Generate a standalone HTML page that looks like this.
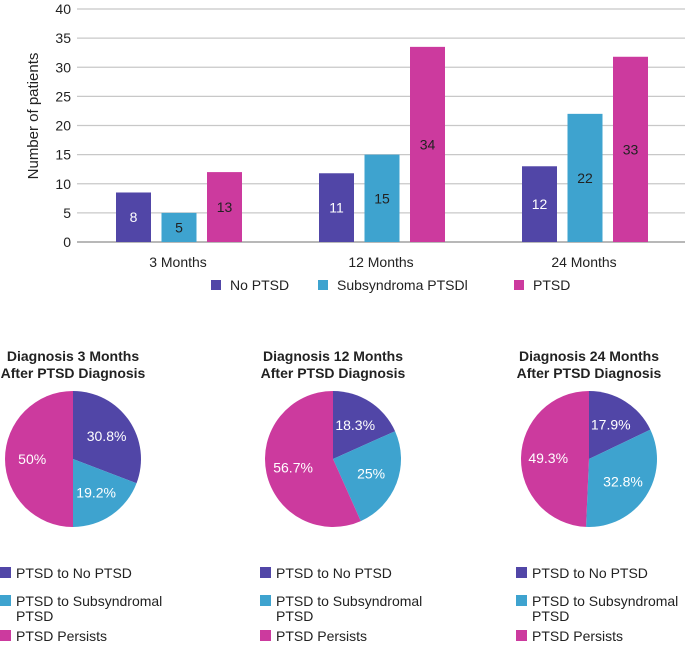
<!DOCTYPE html>
<html><head><meta charset="utf-8"><style>
body{margin:0;background:#fff;width:685px;height:645px;overflow:hidden;font-family:"Liberation Sans",sans-serif}
svg{display:block}
</style></head><body>
<svg id="c" width="685" height="645"></svg>
<script>
const categories=["3 Months","12 Months","24 Months"];
const seriesNames=["No PTSD","Subsyndroma PTSDl","PTSD"];
const noPtsd=[8.5,11.8,13];
const subPtsd=[5,15,22];
const ptsd=[12,33.5,31.8];
const noPtsdLabels=["8","11","12"];
const subPtsdLabels=["5","15","22"];
const ptsdLabels=["13","34","33"];
const yTicks=[0,5,10,15,20,25,30,35,40];
const pieTitles1=["Diagnosis 3 Months","Diagnosis 12 Months","Diagnosis 24 Months"];
const pieNoPtsd=[30.8,18.3,17.9];
const pieSub=[19.2,25,32.8];
const piePersists=[50,56.7,49.3];
const pieLegend=["PTSD to No PTSD","PTSD to Subsyndromal","PTSD Persists"];

const NS="http://www.w3.org/2000/svg";
const svg=document.getElementById('c');
const colors=["#5146a7","#3ea3cf","#cc3a9e"];
function mk(t,a,txt){const e=document.createElementNS(NS,t);for(const k in a)e.setAttribute(k,a[k]);if(txt!==undefined)e.textContent=txt;svg.appendChild(e);return e;}
const y0=242,pxPer=233/40;
const yS=v=>y0-v*pxPer;
const groupC=i=>178+i*203;
yTicks.forEach(t=>{
 const l=mk('line',{x1:77,x2:685,y1:yS(t),y2:yS(t),stroke:t===0?'#b8b8b8':'#c8c8c8','stroke-width':t===0?2:1.3});
 
 const tx=mk('text',{x:71,y:yS(t)+5,'text-anchor':'end','font-size':14,fill:'#222'},String(t));
 
});
const yt=mk('text',{x:0,y:0,'font-size':15,fill:'#222','text-anchor':'middle',transform:'translate(38,116) rotate(-90)'},'Number of patients');

const series=[noPtsd,subPtsd,ptsd],labels=[noPtsdLabels,subPtsdLabels,ptsdLabels];
categories.forEach((c,i)=>{
 series.forEach((s,j)=>{
  const x=groupC(i)-62+j*45.5;
  const r=mk('rect',{x:x,y:yS(s[i]),width:35,height:s[i]*pxPer,fill:colors[j]});
  
  const t=mk('text',{x:x+17.5,y:yS(s[i]/2)+5,'text-anchor':'middle','font-size':14,fill:j===0?'#fff':'#222'},labels[j][i]);
  
 });
 const t=mk('text',{x:groupC(i),y:267,'text-anchor':'middle','font-size':14,fill:'#222'},c);
 
});
const legX=[211,318,514];
seriesNames.forEach((n,j)=>{
 const r=mk('rect',{x:legX[j],y:280,width:10,height:10,fill:colors[j]});
 
 const t=mk('text',{x:legX[j]+19,y:290,'font-size':14,fill:'#222'},n);
 
});
const pcx=[73,333,589],pcy=459,R=68;
const pieSeries=[pieNoPtsd,pieSub,piePersists];
const legLeft=[0,260,516];
pcx.forEach((cx,i)=>{
 const t1=mk('text',{x:cx,y:361,'text-anchor':'middle','font-size':14,'font-weight':'bold',fill:'#222'},pieTitles1[i]);
 
 const t2=mk('text',{x:cx,y:378,'text-anchor':'middle','font-size':14,'font-weight':'bold',fill:'#222'},'After PTSD Diagnosis');
 
 const vals=pieSeries.map(s=>s[i]);const tot=vals.reduce((a,b)=>a+b,0);
 let a=0;
 vals.forEach((v,j)=>{
  const a1=a,a2=a+v/tot*2*Math.PI;a=a2;
  const p=(ang,r)=>[cx+r*Math.sin(ang),pcy-r*Math.cos(ang)];
  const [x1,y1]=p(a1,R),[x2,y2]=p(a2,R);
  const s=mk('path',{d:`M${cx},${pcy}L${x1},${y1}A${R},${R} 0 ${a2-a1>Math.PI?1:0} 1 ${x2},${y2}Z`,fill:colors[j]});
  
  const [lx,ly]=p((a1+a2)/2,R*0.6);
  const t=mk('text',{x:lx,y:ly+5,'text-anchor':'middle','font-size':14,fill:'#fff'},(Math.round(v*10)/10)+'%');
  
 });
 const lx=legLeft[i];
 const ys=[567,595,630];
 pieLegend.forEach((n,j)=>{
  const r=mk('rect',{x:lx,y:ys[j],width:11,height:11,fill:colors[j]});
  
  const t=mk('text',{x:lx+16,y:ys[j]+11,'font-size':14,fill:'#222'},n);
  
 });
 const t=mk('text',{x:lx+16,y:621,'font-size':14,fill:'#222'},'PTSD');
 
});
</script>
</body></html>
